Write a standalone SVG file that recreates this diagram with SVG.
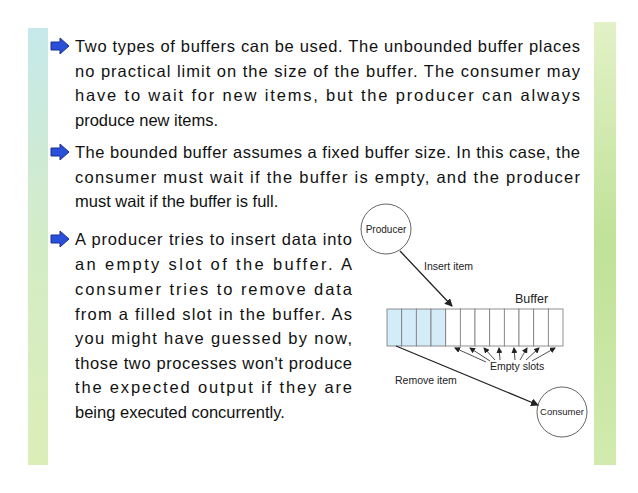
<svg xmlns="http://www.w3.org/2000/svg" width="638" height="493" viewBox="0 0 638 493">
<defs>
<linearGradient id="lg" x1="0" y1="0" x2="0" y2="1"><stop offset="0" stop-color="#bfe6e8"/><stop offset="0.5" stop-color="#cfeac0"/><stop offset="1" stop-color="#d8ecb0"/></linearGradient>
<linearGradient id="rg" x1="0" y1="0" x2="0" y2="1"><stop offset="0" stop-color="#dff0c0"/><stop offset="0.5" stop-color="#b9de8c"/><stop offset="1" stop-color="#cde8a6"/></linearGradient>
<marker id="ah" markerWidth="8" markerHeight="8" refX="7" refY="4" orient="auto" markerUnits="userSpaceOnUse"><path d="M0,0 L8,4 L0,8 Z" fill="#222"/></marker>
<marker id="sa" markerWidth="6" markerHeight="6" refX="5" refY="3" orient="auto" markerUnits="userSpaceOnUse"><path d="M0,0 L6,3 L0,6 Z" fill="#222"/></marker>
<g id="bul"><path d="M0,-4 h9 v-4 l9,8 l-9,8 v-4 h-9 z" fill="#2a4fd8" stroke="#1a2f90" stroke-width="1"/></g>
</defs>
<style>
.t{font-family:"Liberation Sans",Arial,sans-serif;font-size:16.5px;fill:#111}
.d{font-family:"Liberation Sans",Arial,sans-serif;font-size:10.5px;fill:#222}
.ln{stroke:#222;stroke-width:1.3;fill:none}
.cell{fill:#fff;stroke:#777;stroke-width:0.8}
.full{fill:#d3ecf8}
</style>
<rect width="638" height="493" fill="#fff"/>
<rect x="28" y="28" width="20" height="437" fill="url(#lg)" opacity="0.9"/>
<rect x="594" y="22" width="22" height="443" fill="url(#rg)" opacity="0.9"/>
<g id="text">
<use href="#bul" x="51" y="46"/>
<text class="t" x="75" y="52" textLength="505" lengthAdjust="spacing">Two types of buffers can be used. The unbounded buffer places</text>
<text class="t" x="75" y="77" textLength="505" lengthAdjust="spacing">no practical limit on the size of the buffer. The consumer may</text>
<text class="t" x="75" y="101" textLength="505" lengthAdjust="spacing">have to wait for new items, but the producer can always</text>
<text class="t" x="75" y="126">produce new items.</text>
<use href="#bul" x="51" y="152"/>
<text class="t" x="75" y="158" textLength="505" lengthAdjust="spacing">The bounded buffer assumes a fixed buffer size. In this case, the</text>
<text class="t" x="75" y="183" textLength="505" lengthAdjust="spacing">consumer must wait if the buffer is empty, and the producer</text>
<text class="t" x="75" y="207">must wait if the buffer is full.</text>
<use href="#bul" x="51" y="239"/>
<text class="t" x="75" y="245" textLength="277" lengthAdjust="spacing"> A producer tries to insert data into</text>
<text class="t" x="75" y="270" textLength="277" lengthAdjust="spacing">an empty slot of the buffer. A</text>
<text class="t" x="75" y="295" textLength="277" lengthAdjust="spacing">consumer tries to remove data</text>
<text class="t" x="75" y="320" textLength="277" lengthAdjust="spacing">from a filled slot in the buffer. As</text>
<text class="t" x="75" y="344" textLength="277" lengthAdjust="spacing">you might have guessed by now,</text>
<text class="t" x="75" y="369" textLength="277" lengthAdjust="spacing">those two processes won't produce</text>
<text class="t" x="75" y="393" textLength="277" lengthAdjust="spacing">the expected output if they are</text>
<text class="t" x="75" y="418">being executed concurrently.</text>
</g>
<g id="producer"><circle cx="386" cy="229" r="25" fill="#fff" stroke="#666" stroke-width="1"/><text class="d" x="386" y="233" text-anchor="middle" style="font-size:10px">Producer</text></g>
<g id="consumer"><circle cx="562" cy="412" r="25" fill="#fff" stroke="#666" stroke-width="1"/><text class="d" x="562" y="415" text-anchor="middle" style="font-size:9.5px">Consumer</text></g>
<g id="buffer">
<rect class="cell full" x="387" y="309" width="14.7" height="37"/>
<rect class="cell full" x="401.7" y="309" width="14.7" height="37"/>
<rect class="cell full" x="416.3" y="309" width="14.7" height="37"/>
<rect class="cell full" x="431" y="309" width="14.7" height="37"/>
<rect class="cell" x="445.7" y="309" width="14.7" height="37"/>
<rect class="cell" x="460.3" y="309" width="14.7" height="37"/>
<rect class="cell" x="475" y="309" width="14.7" height="37"/>
<rect class="cell" x="489.7" y="309" width="14.7" height="37"/>
<rect class="cell" x="504.3" y="309" width="14.7" height="37"/>
<rect class="cell" x="519" y="309" width="14.7" height="37"/>
<rect class="cell" x="533.7" y="309" width="14.7" height="37"/>
<rect class="cell" x="548.3" y="309" width="14.7" height="37"/>
<text class="d" x="515" y="303" style="font-size:12.5px">Buffer</text>
</g>
<g id="connectors">
<line class="ln" x1="400" y1="251" x2="452" y2="306" marker-end="url(#ah)"/>
<line class="ln" x1="396" y1="346" x2="538" y2="405" marker-end="url(#ah)"/>
<g stroke="#222" stroke-width="0.8">
<line x1="486" y1="362" x2="455" y2="348" marker-end="url(#sa)"/>
<line x1="490" y1="361" x2="470" y2="348" marker-end="url(#sa)"/>
<line x1="495" y1="360" x2="484" y2="348" marker-end="url(#sa)"/>
<line x1="500" y1="360" x2="499" y2="348" marker-end="url(#sa)"/>
<line x1="515" y1="360" x2="514" y2="348" marker-end="url(#sa)"/>
<line x1="520" y1="360" x2="527" y2="348" marker-end="url(#sa)"/>
<line x1="526" y1="360" x2="539" y2="348" marker-end="url(#sa)"/>
<line x1="532" y1="361" x2="555" y2="348" marker-end="url(#sa)"/>
</g>
</g>
<g id="labels">
<text class="d" x="424" y="270">Insert item</text>
<text class="d" x="490" y="370">Empty slots</text>
<text class="d" x="395" y="384">Remove item</text>
</g>
</svg>
